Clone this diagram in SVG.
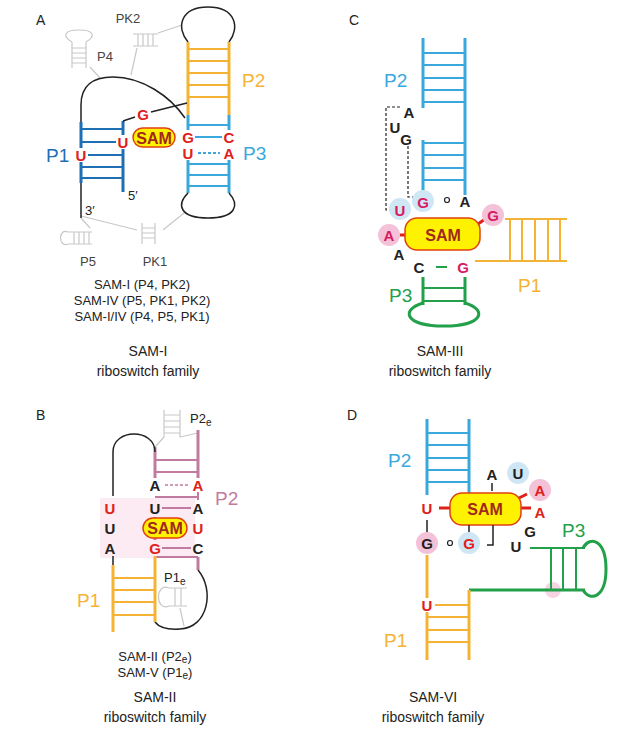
<svg xmlns="http://www.w3.org/2000/svg" width="626" height="733" viewBox="0 0 626 733">
<style>
text{font-family:"Liberation Sans",Arial,sans-serif}
.t{font-size:13px;fill:#222;text-anchor:middle}
.pl{font-size:13px;fill:#222}
.lab{font-size:19px}
.b{font-size:15px;font-weight:bold;text-anchor:middle;dominant-baseline:central}
.r{fill:#e0201b}.k{fill:#222}.pk{fill:#d81b60}
.sam{fill:#fff200;stroke:#e04010;stroke-width:1.5}
.samt{font-size:16px;font-weight:bold;fill:#a0281c;text-anchor:middle;dominant-baseline:central}
.or{stroke:#f5b335;stroke-width:2;fill:none}
.db{stroke:#1f6fb5;stroke-width:2;fill:none}
.lb{stroke:#3aa8dc;stroke-width:2;fill:none}
.mv{stroke:#c27ba0;stroke-width:2;fill:none}
.gr{stroke:#22a04a;stroke-width:2;fill:none}
.bk{stroke:#222;stroke-width:1.5;fill:none}
.gy{stroke:#c8c8c8;stroke-width:1.2;fill:none}
.thick{stroke-width:3}
.cb{fill:#cfe6f5}.cp{fill:#f4c2d8}
</style>
<g id="panelA">
<text x="36" y="25" class="pl" style="font-size:14px">A</text>
<g class="gy">
<path d="M72,68 V42 M86,68 V42 M72,42 C62,36 64,30 79,30 C94,30 96,36 86,42"/>
<path d="M72,48 H86 M72,53 H86 M72,58 H86 M72,63 H86"/>
<path d="M133,34 H158 M133,46 H158 M138,34 V46 M143,34 V46 M148,34 V46 M153,34 V46"/>
<path d="M158,33 L182,25 M137,48 L131,75 M90,67 L100,78"/>
<path d="M68,232 H92 M68,244 H92 M68,232 C58,228 58,248 68,244 M74,232 V244 M79,232 V244 M84,232 V244 M89,232 V244"/>
<path d="M142,223 V244 M155,223 V244 M142,228 H155 M142,233 H155 M142,238 H155"/>
<path d="M81,218 L90,228 M81,216 L137,230 M163,230 L184,213"/>
</g>
<text x="128" y="23" class="t" style="fill:#444">PK2</text>
<text x="97" y="61" class="pl" style="fill:#444">P4</text>
<text x="88" y="266" class="t" style="fill:#444">P5</text>
<text x="155" y="266" class="t" style="fill:#444">PK1</text>
<path class="bk" d="M188,42 C176,28 180,7 208,7 C236,7 240,28 229,42"/>
<path class="or thick" d="M188,42 V115 M229,42 V115"/>
<path class="or" d="M188,49 H229 M188,61 H229 M188,73 H229 M188,85 H229 M188,97 H229"/>
<text x="242" y="87" class="lab" style="fill:#f5b335">P2</text>
<path class="lb thick" d="M188,115 V130 M188,160 V193 M229,115 V130 M229,160 V193"/>
<path class="lb" d="M188,125 H229 M195,137 H222 M188,164 H229 M188,175 H229 M188,186 H229"/>
<path d="M198,153 H220" stroke="#3aa8dc" stroke-width="2" stroke-dasharray="3,2"/>
<path class="bk" d="M188,193 C176,205 180,218 208,218 C236,218 240,205 229,193"/>
<text x="188" y="137" class="b r">G</text><text x="229" y="137" class="b r">C</text>
<text x="188" y="153" class="b r">U</text><text x="229" y="153" class="b r">A</text>
<text x="243" y="160" class="lab" style="fill:#3aa8dc">P3</text>
<path class="db thick" d="M81,122 V148 M81,162 V183 M123,121 V135 M123,149 V192"/>
<path class="db" d="M81,129 H123 M81,142 H116 M88,155 H123 M81,167 H123 M81,178 H123"/>
<text x="81" y="155" class="b r">U</text><text x="123" y="142" class="b r">U</text>
<text x="46" y="162" class="lab" style="fill:#1f6fb5">P1</text>
<path class="bk" d="M81,122 V105 C81,82 98,77 113,77 C142,77 170,96 185,118"/>
<path class="bk" d="M123,121 L135,117 M151,112 L187,103"/>
<path class="bk" d="M81,183 V218"/>
<text x="143" y="114" class="b r">G</text>
<rect x="133" y="128" width="42" height="19" rx="9.5" class="sam"/>
<text x="154" y="138" class="samt">SAM</text>
<text x="128" y="200" class="pl">5′</text>
<text x="85" y="215" class="pl">3′</text>
<text x="142" y="289" class="t">SAM-I (P4, PK2)</text>
<text x="142" y="305" class="t">SAM-IV (P5, PK1, PK2)</text>
<text x="142" y="321" class="t">SAM-I/IV (P4, P5, PK1)</text>
<text x="148" y="356" class="t" style="font-size:14px">SAM-I</text>
<text x="148" y="376" class="t" style="font-size:14px">riboswitch family</text>
</g>
<g id="panelC">
<text x="349" y="25" class="pl" style="font-size:14px">C</text>
<path class="lb thick" d="M423,38 V108 M423,140 V195 M465,38 V195"/>
<path class="lb" d="M423,53 H465 M423,65 H465 M423,78 H465 M423,90 H465 M423,102 H465 M423,143 H465 M423,155 H465 M423,168 H465 M423,180 H465"/>
<text x="384" y="87" class="lab" style="fill:#3aa8dc">P2</text>
<text x="409" y="112" class="b k">A</text><text x="395" y="127" class="b k">U</text><text x="406" y="139" class="b k">G</text>
<path d="M400,107 H386 V210 H392 M408,146 V197 H416" stroke="#222" stroke-width="1.2" fill="none" stroke-dasharray="3,2"/>
<circle cx="400" cy="209" r="11" class="cb"/><circle cx="423" cy="201" r="11" class="cb"/>
<text x="400" y="210" class="b pk">U</text><text x="423" y="202" class="b pk">G</text>
<circle cx="447" cy="200" r="2.5" fill="none" stroke="#222" stroke-width="1.2"/>
<text x="465" y="201" class="b k">A</text>
<path d="M398,235 H408 M478,224 L488,217" stroke="#e0201b" stroke-width="3"/>
<rect x="405" y="218" width="75" height="32" rx="12" class="sam"/>
<text x="443" y="235" class="samt">SAM</text>
<circle cx="389" cy="235" r="11" class="cp"/><text x="389" y="235" class="b pk">A</text>
<circle cx="493" cy="215" r="11" class="cp"/><text x="493" y="215" class="b pk">G</text>
<path class="or" d="M505,219 H567 M475,261 H567 M510,219 V261 M522,219 V261 M535,219 V261 M548,219 V261 M560,219 V261"/>
<text x="518" y="292" class="lab" style="fill:#f5b335">P1</text>
<text x="399" y="254" class="b k">A</text><text x="419" y="267" class="b k">C</text>
<path d="M436,267 H447" stroke="#22a04a" stroke-width="2"/>
<text x="463" y="267" class="b pk">G</text>
<path class="gr thick" d="M423,277 V305 M465,277 V305"/>
<path class="gr" d="M423,288 H465 M423,301 H465"/>
<path class="gr thick" d="M423,303 C400,310 405,326 444,326 C483,326 488,310 465,303"/>
<text x="389" y="302" class="lab" style="fill:#22a04a">P3</text>
<text x="440" y="356" class="t" style="font-size:14px">SAM-III</text>
<text x="440" y="376" class="t" style="font-size:14px">riboswitch family</text>
</g>
<g id="panelB">
<text x="36" y="420" class="pl" style="font-size:14px">B</text>
<rect x="100" y="498" width="95" height="60" fill="#fbe3ec" opacity="0.7"/>
<g class="gy">
<path d="M164,410 V437 M180,410 V437 M164,415 H180 M164,421 H180 M164,427 H180 M164,433 H180 M164,437 L155,447 M180,437 L198,433"/>
<path d="M169,588 H187 M169,606 H187 M169,588 C155,582 155,612 169,606 M175,588 V606 M181,588 V606 M180,608 L184,626"/>
</g>
<text x="190" y="423" class="pl" style="fill:#222">P2<tspan font-size="10" dy="3">e</tspan></text>
<text x="164" y="582" class="pl" style="fill:#222">P1<tspan font-size="10" dy="3">e</tspan></text>
<path class="mv thick" d="M155,447 V478 M155,517 V540 M198,430 V478 M198,557 V570"/>
<path class="mv" d="M155,460 H198 M155,472 H198 M155,497 H198 M162,508 H191 M162,548 H191 M155,557 H198 M198,492 V500"/>
<path d="M165,485 H190" stroke="#c27ba0" stroke-width="1.5" stroke-dasharray="3,2"/>
<text x="155" y="485" class="b k">A</text><text x="198" y="485" class="b r">A</text>
<text x="155" y="508" class="b k">U</text><text x="198" y="508" class="b k">A</text>
<text x="198" y="528" class="b r">U</text>
<text x="155" y="548" class="b r">G</text><text x="198" y="548" class="b k">C</text>
<text x="110" y="508" class="b r">U</text><text x="110" y="528" class="b k">U</text><text x="110" y="548" class="b k">A</text>
<rect x="143" y="518" width="44" height="20" rx="10" class="sam"/>
<text x="165" y="528" class="samt">SAM</text>
<text x="215" y="505" class="lab" style="fill:#c27ba0">P2</text>
<path class="bk" d="M113,496 V452 C113,428 155,428 155,452 M113,556 V566"/>
<path class="bk" d="M198,570 C215,590 208,628 180,629 C165,630 158,626 155,622"/>
<path class="or thick" d="M113,565 V632 M155,556 V622"/>
<path class="or" d="M113,578 H155 M113,590 H155 M113,602 H155 M113,615 H155"/>
<text x="77" y="607" class="lab" style="fill:#f5b335">P1</text>
<text x="155" y="661" class="t">SAM-II (P2<tspan font-size="10" dy="2">e</tspan><tspan dy="-2">)</tspan></text>
<text x="155" y="677" class="t">SAM-V (P1<tspan font-size="10" dy="2">e</tspan><tspan dy="-2">)</tspan></text>
<text x="155" y="702" class="t" style="font-size:14px">SAM-II</text>
<text x="155" y="722" class="t" style="font-size:14px">riboswitch family</text>
</g>
<g id="panelD">
<text x="347" y="420" class="pl" style="font-size:14px">D</text>
<path class="lb thick" d="M427,419 V495 M469,419 V495"/>
<path class="lb" d="M427,433 H469 M427,445 H469 M427,458 H469 M427,470 H469 M427,482 H469"/>
<text x="388" y="467" class="lab" style="fill:#3aa8dc">P2</text>
<path d="M439,508 H452 M519,498 L527,494 M521,508 L531,508" stroke="#e0201b" stroke-width="3"/>
<rect x="450" y="493" width="71" height="32" rx="12" class="sam"/>
<text x="485" y="509" class="samt">SAM</text>
<text x="427" y="508" class="b r">U</text>
<path class="bk" d="M427,520 V533 M469,525 V533 M493,525 V545 H487 M492,483 V491"/>
<circle cx="427" cy="543" r="11" class="cp"/><circle cx="469" cy="543" r="11" class="cb"/>
<text x="427" y="543" class="b k">G</text><text x="469" y="543" class="b r">G</text>
<circle cx="450" cy="543" r="2.5" fill="none" stroke="#222" stroke-width="1.2"/>
<text x="492" y="474" class="b k">A</text>
<circle cx="518" cy="473" r="11" class="cb"/><text x="518" y="473" class="b k">U</text>
<circle cx="540" cy="490" r="11" class="cp"/><text x="540" y="490" class="b r">A</text>
<text x="540" y="512" class="b r">A</text>
<text x="530" y="531" class="b k">G</text><text x="516" y="546" class="b k">U</text>
<circle cx="553" cy="590" r="8" fill="#f4c2d8" opacity="0.7"/>
<path class="gr" d="M530,548 H585 M551,548 V590 M563,548 V590 M576,548 V590"/>
<path class="gr thick" d="M469,590 H585 M583,548 C590,535 606,540 606,569 C606,598 590,602 583,590"/>
<text x="562" y="537" class="lab" style="fill:#22a04a">P3</text>
<path class="or thick" d="M427,555 V598 M427,612 V660 M469,590 V660"/>
<path class="or" d="M435,605 H469 M427,617 H469 M427,630 H469 M427,642 H469"/>
<text x="427" y="605" class="b r">U</text>
<text x="384" y="647" class="lab" style="fill:#f5b335">P1</text>
<text x="433" y="702" class="t" style="font-size:14px">SAM-VI</text>
<text x="433" y="722" class="t" style="font-size:14px">riboswitch family</text>
</g>
</svg>
